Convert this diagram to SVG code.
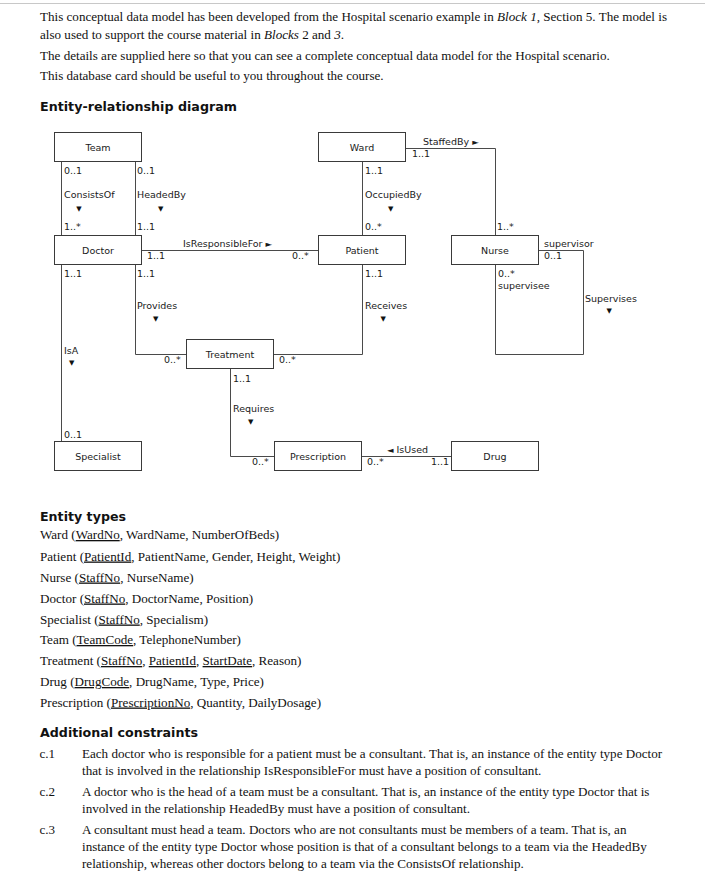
<svg xmlns="http://www.w3.org/2000/svg" width="705" height="875" viewBox="0 0 705 875">
<style>
.box{fill:#fff;stroke:#3a3a3a;stroke-width:1}
.ln{fill:none;stroke:#4a4a4a;stroke-width:1}
.lb{font-family:"DejaVu Sans",sans-serif;font-size:9.5px;fill:#1a1a1a}
.nm{font-family:"DejaVu Sans",sans-serif;font-size:9.5px;fill:#1a1a1a;text-anchor:middle}
.tri{font-family:"DejaVu Sans",sans-serif;font-size:7px;fill:#111;text-anchor:middle}
.sm{font-size:8.5px}
.body{font-family:"Liberation Serif",serif;font-size:13.1px;fill:#111}
.h{font-family:"DejaVu Sans",sans-serif;font-weight:bold;font-size:13px;fill:#111}
.u{text-decoration:underline}
.i{font-style:italic}
</style>
<rect width="705" height="875" fill="#fff"/>
<line x1="0" y1="3.5" x2="705" y2="3.5" stroke="#c8c8c8" stroke-width="1"/>

<g id="intro">
<text class="body" x="40" y="21">This conceptual data model has been developed from the Hospital scenario example in <tspan class="i">Block 1</tspan>, Section 5. The model is</text>
<text class="body" x="40" y="39">also used to support the course material in <tspan class="i">Blocks</tspan> 2 and <tspan class="i">3</tspan>.</text>
<text class="body" x="40" y="59.5">The details are supplied here so that you can see a complete conceptual data model for the Hospital scenario.</text>
<text class="body" x="40" y="80">This database card should be useful to you throughout the course.</text>
<text class="h" x="40" y="111" textLength="197" lengthAdjust="spacingAndGlyphs">Entity-relationship diagram</text>
</g>

<g id="connectors">
<path class="ln" d="M61.5,161.5 V235.5"/>
<path class="ln" d="M135.5,161.5 V235.5"/>
<path class="ln" d="M141.5,250.5 H318.5"/>
<path class="ln" d="M362.5,161.5 V235.5"/>
<path class="ln" d="M405.5,148.5 H495.5 V235.5"/>
<path class="ln" d="M538.5,250.5 H583.5 V354.5 H495.5 V264.5"/>
<path class="ln" d="M61.5,264.5 V441.5"/>
<path class="ln" d="M135.5,264.5 V354.5 H186.5"/>
<path class="ln" d="M362.5,264.5 V354.5 H273.5"/>
<path class="ln" d="M230.5,368.5 V456.5 H274.5"/>
<path class="ln" d="M361.5,456.5 H451.5"/>
</g>

<g id="labels">
<text class="lb" x="64" y="174">0..1</text>
<text class="lb" x="64" y="198">ConsistsOf</text>
<text class="tri" x="79" y="210.5">▼</text>
<text class="lb" x="64" y="230">1..*</text>
<text class="lb" x="137" y="174">0..1</text>
<text class="lb" x="137" y="198">HeadedBy</text>
<text class="tri" x="160.7" y="210.5">▼</text>
<text class="lb" x="137" y="230">1..1</text>
<text class="lb" x="64" y="277">1..1</text>
<text class="lb" x="137" y="277">1..1</text>
<text class="lb" x="183" y="247">IsResponsibleFor <tspan class="sm">►</tspan></text>
<text class="lb" x="147" y="259">1..1</text>
<text class="lb" x="292" y="259">0..*</text>
<text class="lb" x="423" y="145">StaffedBy <tspan class="sm">►</tspan></text>
<text class="lb" x="412" y="157">1..1</text>
<text class="lb" x="365" y="174">1..1</text>
<text class="lb" x="365" y="198">OccupiedBy</text>
<text class="tri" x="390.7" y="210.5">▼</text>
<text class="lb" x="365" y="230">0..*</text>
<text class="lb" x="497" y="230">1..*</text>
<text class="lb" x="544" y="247">supervisor</text>
<text class="lb" x="544" y="259">0..1</text>
<text class="lb" x="498" y="277">0..*</text>
<text class="lb" x="498" y="289">supervisee</text>
<text class="lb" x="365" y="277">1..1</text>
<text class="lb" x="585" y="302">Supervises</text>
<text class="tri" x="609.3" y="313">▼</text>
<text class="lb" x="365" y="309">Receives</text>
<text class="tri" x="383.3" y="321">▼</text>
<text class="lb" x="137" y="309">Provides</text>
<text class="tri" x="155.7" y="321">▼</text>
<text class="lb" x="64" y="354">IsA</text>
<text class="tri" x="71.7" y="364.5">▼</text>
<text class="lb" x="164" y="363">0..*</text>
<text class="lb" x="279" y="363">0..*</text>
<text class="lb" x="233" y="382">1..1</text>
<text class="lb" x="233" y="412">Requires</text>
<text class="tri" x="250.7" y="423.5">▼</text>
<text class="lb" x="64" y="438">0..1</text>
<text class="lb" x="252" y="465">0..*</text>
<text class="lb" x="387" y="453"><tspan class="sm">◄</tspan> IsUsed</text>
<text class="lb" x="367" y="465">0..*</text>
<text class="lb" x="431" y="465">1..1</text>
</g>

<g id="Team"><rect class="box" x="54.5" y="132.5" width="87" height="29"/><text class="nm" x="98" y="151">Team</text></g>
<g id="Ward"><rect class="box" x="318.5" y="132.5" width="87" height="29"/><text class="nm" x="362" y="151">Ward</text></g>
<g id="Doctor"><rect class="box" x="54.5" y="235.5" width="87" height="29"/><text class="nm" x="98" y="254">Doctor</text></g>
<g id="Patient"><rect class="box" x="318.5" y="235.5" width="87" height="29"/><text class="nm" x="362" y="254">Patient</text></g>
<g id="Nurse"><rect class="box" x="451.5" y="235.5" width="87" height="29"/><text class="nm" x="495" y="254">Nurse</text></g>
<g id="Treatment"><rect class="box" x="186.5" y="339.5" width="87" height="29"/><text class="nm" x="230" y="358">Treatment</text></g>
<g id="Specialist"><rect class="box" x="54.5" y="441.5" width="87" height="29"/><text class="nm" x="98" y="460">Specialist</text></g>
<g id="Prescription"><rect class="box" x="274.5" y="441.5" width="87" height="29"/><text class="nm" x="318" y="460">Prescription</text></g>
<g id="Drug"><rect class="box" x="451.5" y="441.5" width="87" height="29"/><text class="nm" x="495" y="460">Drug</text></g>

<g id="entity-types">
<text class="h" x="40" y="521" textLength="86" lengthAdjust="spacingAndGlyphs">Entity types</text>
<text class="body" x="40" y="539">Ward (<tspan class="u">WardNo</tspan>, WardName, NumberOfBeds)</text>
<text class="body" x="40" y="560.5">Patient (<tspan class="u">PatientId</tspan>, PatientName, Gender, Height, Weight)</text>
<text class="body" x="40" y="581.5">Nurse (<tspan class="u">StaffNo</tspan>, NurseName)</text>
<text class="body" x="40" y="602.5">Doctor (<tspan class="u">StaffNo</tspan>, DoctorName, Position)</text>
<text class="body" x="40" y="623.5">Specialist (<tspan class="u">StaffNo</tspan>, Specialism)</text>
<text class="body" x="40" y="644">Team (<tspan class="u">TeamCode</tspan>, TelephoneNumber)</text>
<text class="body" x="40" y="665">Treatment (<tspan class="u">StaffNo</tspan>, <tspan class="u">PatientId</tspan>, <tspan class="u">StartDate</tspan>, Reason)</text>
<text class="body" x="40" y="686">Drug (<tspan class="u">DrugCode</tspan>, DrugName, Type, Price)</text>
<text class="body" x="40" y="706.5">Prescription (<tspan class="u">PrescriptionNo</tspan>, Quantity, DailyDosage)</text>
</g>

<g id="constraints">
<text class="h" x="40" y="737" textLength="158" lengthAdjust="spacingAndGlyphs">Additional constraints</text>
<text class="body" x="39.5" y="757.5">c.1</text>
<text class="body" x="82" y="757.5">Each doctor who is responsible for a patient must be a consultant. That is, an instance of the entity type Doctor</text>
<text class="body" x="82" y="774.5">that is involved in the relationship IsResponsibleFor must have a position of consultant.</text>
<text class="body" x="39.5" y="796">c.2</text>
<text class="body" x="82" y="796">A doctor who is the head of a team must be a consultant. That is, an instance of the entity type Doctor that is</text>
<text class="body" x="82" y="812.5">involved in the relationship HeadedBy must have a position of consultant.</text>
<text class="body" x="39.5" y="833.5">c.3</text>
<text class="body" x="82" y="833.5">A consultant must head a team. Doctors who are not consultants must be members of a team. That is, an</text>
<text class="body" x="82" y="850.5">instance of the entity type Doctor whose position is that of a consultant belongs to a team via the HeadedBy</text>
<text class="body" x="82" y="867.5">relationship, whereas other doctors belong to a team via the ConsistsOf relationship.</text>
</g>
</svg>
